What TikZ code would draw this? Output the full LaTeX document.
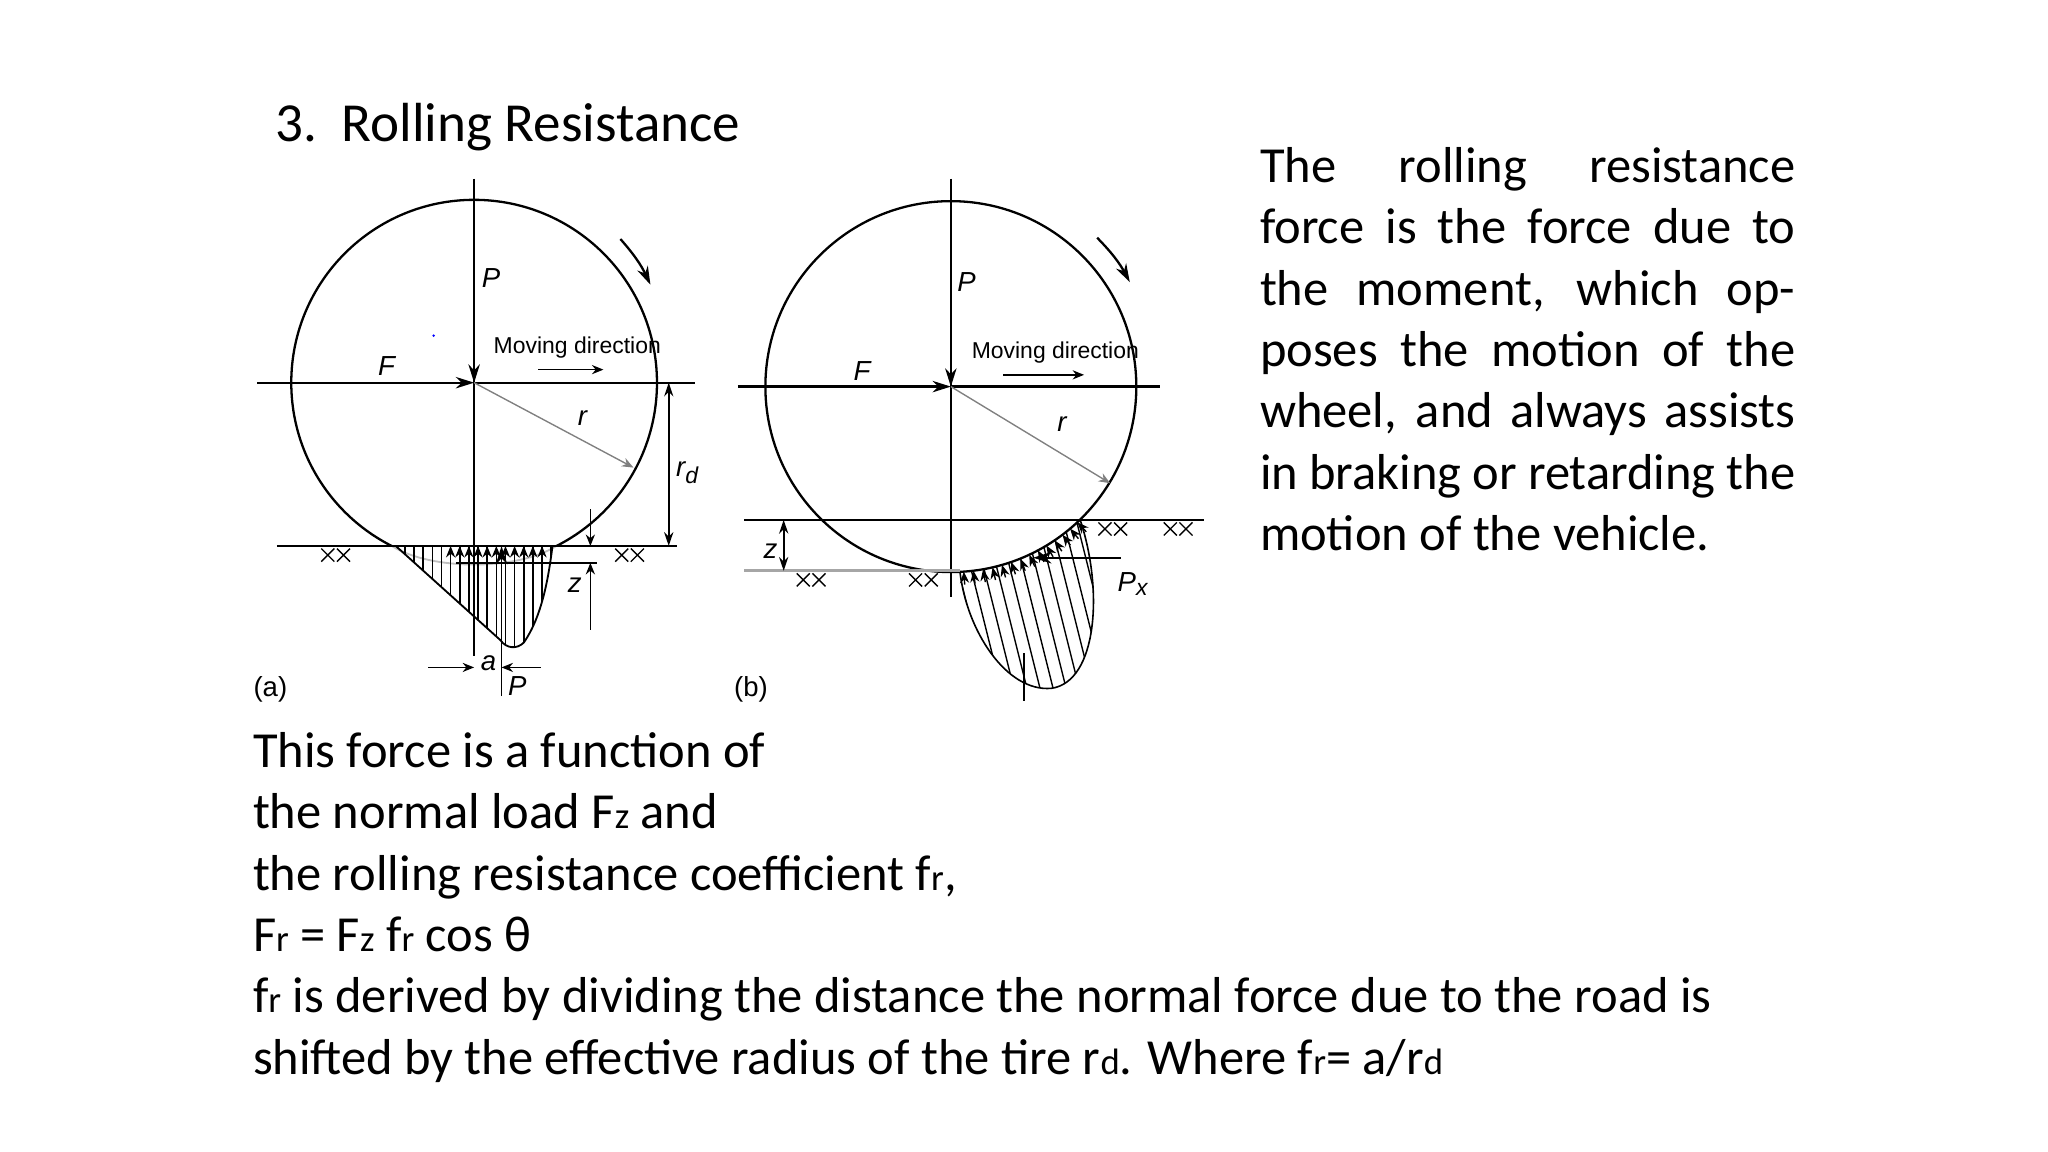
\documentclass[tikz,border=0pt]{standalone}
\usepackage{fontspec}
\setmainfont{Carlito}
\newfontfamily\lab{Liberation Sans}
\usetikzlibrary{arrows.meta,calc}
\newcommand{\sm}[1]{{\fontsize{8}{8}\selectfont #1}}
\begin{document}
\begin{tikzpicture}[x=0.1mm,y=0.1mm,
  txt/.style={font=\fontsize{11}{13.37}\selectfont,inner sep=0pt},
  lbl/.style={font=\lab\itshape\fontsize{6}{6}\selectfont,inner sep=0pt},
  mv/.style={font=\lab\fontsize{5}{5}\selectfont,inner sep=0pt},
  thin line/.style={line width=0.5pt},
  arr/.style={-{Stealth[length=4pt,width=2.5pt]}},
  harr/.style={-{Stealth[length=2.5pt,width=2pt]},line width=0.3pt}]
\useasboundingbox (0,0) rectangle (1568,882);
\node[txt,font=\fontsize{12}{14}\selectfont,anchor=west] (head) at (210,785) {3.\ \ Rolling Resistance};
% ---------------- (a)
\coordinate (A) at (363,589);
\begin{scope}
\clip (150,464) rectangle (560,760);
\draw[thin line] (A) circle[radius=14mm];
\end{scope}
\draw[gray!50] (300,464) .. controls (330,445) and (396,445) .. (426,464);
\coordinate (Atop) at (363,745); \coordinate (Abot) at (363,380);
\draw[line width=0.4pt] (Atop) -- (Abot);
\draw[line width=0.4pt,arr] (Atop) -- (A);
\coordinate (Fl) at (197,589); \coordinate (Fr) at (532,589);
\draw[thin line,arr] (Fl) -- (A); \draw[thin line] (A) -- (Fr);
\coordinate (g1) at (212,464); \coordinate (g2) at (518,464);
\draw[thin line] (g1) -- (g2);
\draw[line width=0.4pt] (303,464) -- (383,392) .. controls (388,385) and (396,385) .. (401,390) .. controls (415,410) and (420,440) .. (423,464);
\begin{scope}
\clip (303,464) -- (383,392) .. controls (388,385) and (396,385) .. (401,390) .. controls (415,410) and (420,440) .. (423,464) -- cycle;
\foreach \x in {310,317,...,422} \draw[line width=0.35pt] (\x,380) -- (\x,464);
\end{scope}
\foreach \x in {345,352,...,415} \draw[harr] (\x,455) -- (\x,464);
\coordinate (aL) at (328,371); \coordinate (aR) at (414,371);
\coordinate (aL2) at (363,371); \coordinate (aR2) at (384,371);
\draw[harr] (aL) -- (aL2); \draw[harr] (aR) -- (aR2);
\node[lbl] (la) at (374,374) {a};
\coordinate (Pb) at (384,349); \coordinate (Pt) at (384,464);
\draw[line width=0.4pt,arr] (Pb) -- (Pt);
\node[lbl] (lP2) at (396,357) {P};
\coordinate (z1) at (349,451); \coordinate (z2) at (457,451);
\draw[thin line] (z1) -- (z2);
\coordinate (za) at (452,492); \coordinate (zb) at (452,464);
\coordinate (zc) at (452,400); \coordinate (zd) at (452,451);
\draw[harr] (za) -- (zb); \draw[harr] (zc) -- (zd);
\node[lbl] (lz) at (440,434) {z};
\coordinate (rd1) at (512,589); \coordinate (rd2) at (512,464);
\draw[line width=0.4pt,{Stealth[length=3pt,width=2pt]}-{Stealth[length=3pt,width=2pt]}] (rd1) -- (rd2);
\node[lbl] (lrd) at (527,520) {r\textsubscript{d}};
\coordinate (rA) at (485,524);
\draw[gray,line width=0.4pt,harr] (A) -- (rA);
\node[lbl] (lr) at (446,562) {r};
\coordinate (rot1) at (475,699); \coordinate (rot2) at (498,664);
\draw[line width=0.5pt,arr] (rot1) to[bend left=8] (rot2);
\node[lbl] (lP) at (376,669) {P};
\node[lbl] (lF) at (296,602) {F};
\node[mv] (mvA) at (442,616) {Moving direction};
\coordinate (m1) at (412,599); \coordinate (m2) at (462,599);
\draw[line width=0.5pt,harr] (m1) -- (m2);
\fill[blue] (332,625) circle[radius=0.3pt];
\foreach \px/\py in {258/457,483/457,853/477,903/477,622/438,708/438} {
  \begin{scope}[shift={(\px,\py)}]
  \draw[line width=0.3pt] (-12,-5) -- (-2,5) (-12,5) -- (-2,-5) (0,-5) -- (10,5) (0,5) -- (10,-5);
  \end{scope}}
\node[font=\lab\fontsize{6}{6}\selectfont] (la1) at (207,354) {(a)};
% ---------------- (b)
\coordinate (B) at (728,586);
\draw[thin line] (B) circle[radius=14.2mm];
\coordinate (Btop) at (728,745); \coordinate (Bbot) at (728,425);
\draw[line width=0.4pt] (Btop) -- (Bbot);
\draw[line width=0.4pt,arr] (Btop) -- (B);
\coordinate (Gl) at (565,586); \coordinate (Gr) at (888,586);
\draw[thin line,arr] (Gl) -- (B); \draw[thin line] (B) -- (Gr);
\coordinate (u1) at (570,484); \coordinate (u2) at (922,484);
\draw[thin line] (u1) -- (u2);
\coordinate (l1) at (570,445); \coordinate (l2) at (735,445);
\draw[gray!70,line width=0.6pt] (l1) -- (l2);
\coordinate (zz1) at (600,484); \coordinate (zz2) at (600,445);
\draw[line width=0.4pt,{Stealth[length=3pt,width=2pt]}-{Stealth[length=3pt,width=2pt]}] (zz1) -- (zz2);
\node[lbl] (lzb) at (590,460) {z};
\draw[line width=0.35pt] (827,484) .. controls (845,430) and (840,360) .. (805,355) .. controls (770,352) and (740,400) .. (735,444);
\begin{scope}
\clip (827,484) .. controls (845,430) and (840,360) .. (805,355) .. controls (770,352) and (740,400) .. (735,444) arc[start angle=-87.2,end angle=-45.9,radius=14.2mm] -- cycle;
\foreach \x in {690,700,...,880} \draw[line width=0.3pt] (\x,500) -- ({\x+40},340);
\end{scope}
\foreach \a in {-86,-83,...,-47} \draw[harr] ($(B)+(\a:15.2mm)$) -- ($(B)+(\a:14.2mm)$);
\coordinate (px1) at (858,455); \coordinate (px2) at (791,455);
\draw[thin line,arr] (px1) -- (px2);
\node[lbl] (lpx) at (868,435) {P\textsubscript{x}};
\coordinate (v1) at (784,382); \coordinate (v2) at (784,345);
\draw[line width=0.4pt] (v1) -- (v2);
\coordinate (rB) at (850,512);
\draw[gray,line width=0.4pt,harr] (B) -- (rB);
\node[lbl] (lrb) at (813,557) {r};
\coordinate (rb1) at (840,700); \coordinate (rb2) at (865,666);
\draw[line width=0.5pt,arr] (rb1) to[bend left=8] (rb2);
\node[lbl] (lPb) at (740,666) {P};
\node[lbl] (lFb) at (660,598) {F};
\node[mv] (mvB) at (808,612) {Moving direction};
\coordinate (n1) at (768,595); \coordinate (n2) at (830,595);
\draw[line width=0.5pt,harr] (n1) -- (n2);
\node[font=\lab\fontsize{6}{6}\selectfont] (lb1) at (575,354) {(b)};
% ---------------- text
\node[txt,anchor=north west,text width=41mm,align=justify] (para) at (964,770)
 {The rolling resistance force is the force due to the moment, which opposes the motion of the wheel, and always assists in braking or retarding the motion of the vehicle.};
\node[txt,anchor=north west,align=left] (body) at (193,322)
 {This force is a function of\\
  the normal load F\sm{z} and\\
  the rolling resistance coefficient f\sm{r},\\
  F\sm{r} = F\sm{z} f\sm{r} cos θ\\
  f\sm{r} is derived by dividing the distance the normal force due to the road is\\
  shifted by the effective radius of the tire r\sm{d}. Where f\sm{r}= a/r\sm{d}};
\end{tikzpicture}
\end{document}
